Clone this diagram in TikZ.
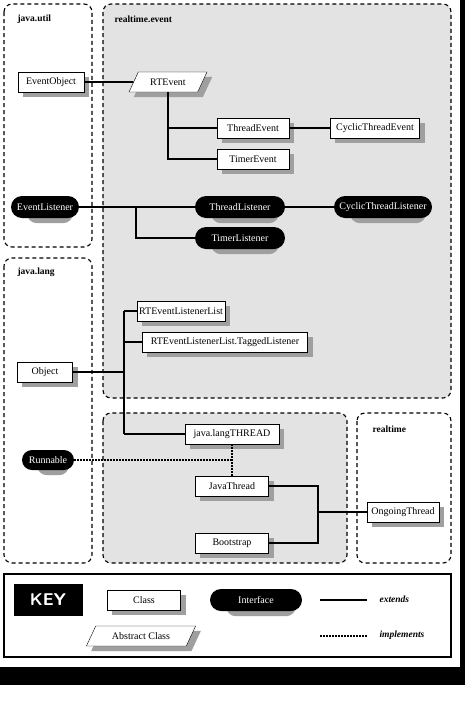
\documentclass[tikz,border=0pt]{standalone}
\usepackage{fontspec}
\setmainfont{Liberation Serif}
\usetikzlibrary{shapes.geometric,shapes.misc,backgrounds}
\begin{document}
\begin{tikzpicture}[x=1pt,y=-1pt,
  cls/.style={draw,fill=white,minimum height=20pt,inner xsep=2pt,font=\fontsize{10}{11}\selectfont},
  abs/.style={trapezium,trapezium left angle=65,trapezium right angle=115,draw,fill=white,minimum height=20pt,inner xsep=2pt,font=\fontsize{10}{11}\selectfont},
  itf/.style={rounded rectangle,fill=black,text=white,minimum height=22pt,inner xsep=3pt,font=\fontsize{10}{11}\selectfont},
  pkg/.style={draw,line width=1.1pt,rounded corners=8pt,dash pattern=on 4pt off 3pt},
  plab/.style={font=\bfseries\fontsize{9.5}{10}\selectfont,anchor=west},
  shd/.style={fill=gray!75},
  ext/.style={line width=1.6pt},
  imp/.style={line width=1.8pt,dash pattern=on 1.8pt off 1.2pt}]
\useasboundingbox (0,0) rectangle (474,710);
\begin{scope}[on background layer]
\fill[white] (0,0) rectangle (474,710);
\draw[pkg] (4,4) rectangle (92,247);
\draw[pkg,fill=gray!22] (103,4) rectangle (451,398);
\draw[pkg] (4,258) rectangle (92,563);
\draw[pkg,fill=gray!22] (103,413) rectangle (347,563);
\draw[pkg] (357,413) rectangle (451,563);
\end{scope}
\fill[black] (460,0) rectangle (465,685);
\fill[black] (0,667) rectangle (465,685);
\node[plab] (lu) at (14,19) {java.util};
\node[plab] (le) at (111,19) {realtime.event};
\node[plab] (ll) at (14,272) {java.lang};
\node[plab] (lr) at (369,429) {realtime};
\coordinate (b1) at (168,128); \coordinate (b2) at (168,159);
\coordinate (c1) at (136,207); \coordinate (c2) at (136,238);
\coordinate (d0) at (124,372); \coordinate (d1) at (124,311); \coordinate (d2) at (124,342); \coordinate (d3) at (124,434);
\coordinate (e0) at (318,486); \coordinate (e1) at (318,543); \coordinate (e2) at (318,512);
\coordinate (f0) at (232,460);
% nodes
\node[cls,minimum width=66pt] (eo) at (51,82) {EventObject};
\node[abs,minimum width=74pt] (rt) at (168,82) {RTEvent};
\node[cls,minimum width=72pt] (te) at (253,128) {ThreadEvent};
\node[cls,minimum width=89pt] (cte) at (375,128) {CyclicThreadEvent};
\node[cls,minimum width=72pt] (tme) at (253,159) {TimerEvent};
\node[itf,minimum width=74pt] (el) at (45,207) {EventListener};
\node[itf,minimum width=96pt] (tl) at (240,207) {ThreadListener};
\node[itf,minimum width=104pt] (ctl) at (383,207) {CyclicThreadListener};
\node[itf,minimum width=96pt] (tml) at (240,238) {TimerListener};
\node[cls,minimum width=76pt] (rl) at (181,311) {RTEventListenerList};
\node[cls,minimum width=165pt] (tg) at (225,342) {RTEventListenerList.TaggedListener};
\node[cls,minimum width=55pt] (ob) at (45,372) {Object};
\node[cls,minimum width=94pt] (jl) at (232,434) {java.langTHREAD};
\node[itf,minimum height=20pt,minimum width=58pt] (rn) at (48,460) {Runnable};
\node[cls,minimum width=73pt] (jt) at (232,486) {JavaThread};
\node[cls,minimum width=73pt] (bs) at (232,543) {Bootstrap};
\node[cls,minimum width=72pt] (og) at (403,512) {OngoingThread};
\draw[ext] (eo.east) -- (rt.west);
\draw[ext] (rt.south) |- (tme.west);
\draw[ext] (b1) -- (te.west);
\draw[ext] (te) -- (cte);
\draw[ext] (el) -- (tl);
\draw[ext] (c1) |- (tml.west);
\draw[ext] (tl) -- (ctl);
\draw[ext] (ob.east) -- (d0);
\draw[ext] (d1) -- (d3);
\draw[ext] (d1) -- (rl.west);
\draw[ext] (d2) -- (tg.west);
\draw[ext] (d3) -- (jl.west);
\draw[ext] (jt.east) -- (e0) -- (e1) -- (bs.east);
\draw[ext] (e2) -- (og.west);
\draw[imp] (rn.east) -- (f0);
\draw[imp] (jl.south) -- (jt.north);
% key
\draw[line width=1.1pt] (4,574) rectangle (451,657);
\node[fill=black,text=white,font=\sffamily\bfseries\fontsize{17}{17}\selectfont,minimum width=69pt,minimum height=32pt] (key) at (48,600) {KEY};
\node[cls,minimum width=73pt] (kc) at (144,600) {Class};
\node[itf,minimum width=98pt] (ki) at (256,600) {Interface};
\node[abs,minimum width=84pt] (ka) at (141,636) {Abstract Class};
\coordinate (x1) at (320,600); \coordinate (x2) at (367,600);
\coordinate (y1) at (320,636); \coordinate (y2) at (367,636);
\draw[ext] (x1) -- (x2);
\draw[imp] (y1) -- (y2);
\node[font=\itshape\bfseries\fontsize{9.5}{10}\selectfont,anchor=west] (kx) at (376,599) {extends};
\node[font=\itshape\bfseries\fontsize{9.5}{10}\selectfont,anchor=west] (ky) at (376,635) {implements};
% shadows
\begin{scope}[on background layer]
\foreach \n in {eo,te,cte,tme,rl,tg,ob,jl,jt,bs,og,kc}
  \fill[shd] ([shift={(5,5)}]\n.south west) rectangle ([shift={(5,5)}]\n.north east);
\foreach \n in {el,tl,ctl,tml,rn,ki}
  \fill[shd,rounded corners=10pt] ([shift={(5,5)}]\n.south west) rectangle ([shift={(5,5)}]\n.north east);
\foreach \n in {rt,ka}
  \fill[shd] ([shift={(5,5)}]\n.bottom left corner) -- ([shift={(5,5)}]\n.bottom right corner) -- ([shift={(5,5)}]\n.top right corner) -- ([shift={(5,5)}]\n.top left corner) -- cycle;
\end{scope}
\end{tikzpicture}
\end{document}
